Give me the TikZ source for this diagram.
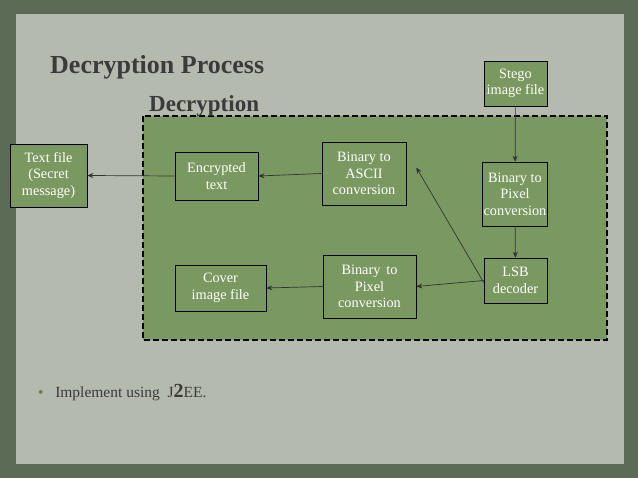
\documentclass[tikz,border=0pt]{standalone}
\usepackage{fontspec}
\setmainfont{Liberation Serif}
\usetikzlibrary{arrows.meta}
\definecolor{outerbg}{HTML}{5C6B55}
\definecolor{panel}{HTML}{B4BAAD}
\definecolor{boxgreen}{HTML}{7A9960}
\definecolor{titlec}{HTML}{3B3B3B}
\tikzset{
  bx/.style={draw=black, fill=boxgreen, line width=0.6pt, align=center, text=white, font=\fontsize{14.3}{16.5}\selectfont, inner sep=1pt},
  ar/.style={-{Stealth[length=6pt,width=5pt]}, line width=0.7pt, draw=black!80}
}
\begin{document}
\begin{tikzpicture}[x=1pt,y=-1pt]
\fill[outerbg] (0,0) rectangle (638,478);
\fill[panel] (16,14) rectangle (624,464);
\useasboundingbox (0,0) rectangle (638,478);
\fill[boxgreen] (143,116) rectangle (607,340);
\draw[black, line width=2.2pt, dash pattern=on 6pt off 3pt] (143,116) rectangle (607,340);
\node[font=\bfseries\fontsize{26}{30}\selectfont, text=titlec, anchor=west, inner sep=0pt] (title) at (50,67) {Decryption Process};
\node[font=\bfseries\fontsize{23}{27}\selectfont, text=titlec, anchor=west, inner sep=0pt] (dec) at (149,106) {Decryption};
\node[bx, minimum width=63pt, minimum height=45pt] (stego) at (515.5,83.5) {Stego\\image file};
\node[bx, minimum width=64pt, minimum height=64pt] (bp1) at (515,194) {Binary to\\Pixel\\conversion};
\node[bx, minimum width=63pt, minimum height=45pt] (lsb) at (515.5,280.5) {LSB\\decoder};
\node[bx, minimum width=84pt, minimum height=63pt] (ba) at (364,173.5) {Binary to\\ASCII\\conversion};
\node[bx, minimum width=83pt, minimum height=48pt] (enc) at (216.5,176) {Encrypted\\text};
\node[bx, minimum width=77pt, minimum height=63pt] (tf) at (48.5,175.5) {Text file\\(Secret\\message)};
\node[bx, minimum width=93pt, minimum height=63pt] (bp2) at (369.5,286.5) {Binary\,\ to\\Pixel\\conversion};
\node[bx, minimum width=91pt, minimum height=46pt] (cov) at (220.5,288) {Cover\\image file};
\draw[ar] (stego) -- (bp1);
\draw[ar] (bp1) -- (lsb);
\draw[ar] ([yshift=-2pt]lsb.west) -- ([xshift=10pt,yshift=6pt]ba.east);
\draw[ar] (lsb.west) -- (bp2.east);
\draw[ar] (ba.west) -- (enc.east);
\draw[ar] (enc.west) -- (tf.east);
\draw[ar] (bp2.west) -- (cov.east);
\node[anchor=west, text=titlec, font=\fontsize{15.5}{18}\selectfont, inner sep=0pt] (bul) at (38,393) {\textcolor{boxgreen!80!black}{•}\ \ \ Implement using\ \ J{\fontsize{20}{18}\selectfont\bfseries 2}EE.};
\end{tikzpicture}
\end{document}
